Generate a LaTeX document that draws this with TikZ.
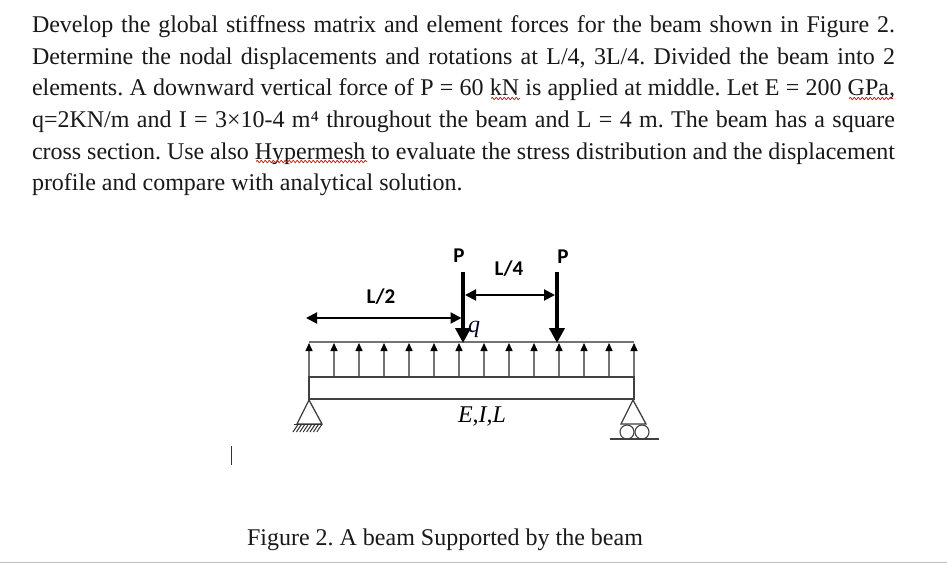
\documentclass[tikz,border=0pt]{standalone}
\usepackage{fontspec}
\setmainfont{Liberation Serif}
\newfontfamily\labelfont{Carlito}
\usetikzlibrary{arrows.meta,decorations.pathmorphing}
\newcommand{\jline}[1]{\makebox[863pt][s]{#1}}
\frenchspacing
\tikzset{
  x=1pt,y=-1pt,
  body/.style={anchor=base west,inner sep=0pt,outer sep=0pt,font=\fontsize{24pt}{32pt}\selectfont,text=black!90},
  tag/.style={inner sep=0pt,font=\labelfont\bfseries\fontsize{21pt}{23pt}\selectfont},
  ital/.style={inner sep=0pt,font=\itshape\fontsize{24pt}{26pt}\selectfont},
  force/.style={line width=4.6pt,-{Triangle[length=15pt,width=15pt]}},
  dim/.style={line width=2pt,{Triangle[length=11pt,width=11pt]}-{Triangle[length=11pt,width=11pt]}},
  load/.style={line width=1.4pt,draw=black!55,-{Triangle[length=8pt,width=7pt,black]}},
  member/.style={line width=1.3pt,draw=black!75},
  squiggle/.style={red!85!black,line width=.7pt,decorate,decoration={snake,amplitude=1.1pt,segment length=4pt}},
}
\begin{document}
\begin{tikzpicture}
\useasboundingbox (0,0) rectangle (947,564);
\fill[white] (0,0) rectangle (947,564);
% problem statement
\node[body] (t1) at (32,32.7) {\jline{Develop the global stiffness matrix and element forces for the beam shown in Figure 2.}};
\node[body] (t2) at (32,64.2) {\jline{Determine the nodal displacements and rotations at L/4, 3L/4. Divided the beam into 2}};
\node[body] (t3) at (32,95.7) {\jline{elements. A downward vertical force of P = 60 kN is applied at middle. Let E = 200 GPa,}};
\node[body] (t4) at (32,127.7) {\jline{q=2KN/m and I = 3×10-4 m⁴ throughout the beam and L = 4 m. The beam has a square}};
\node[body] (t5) at (32,159.2) {\jline{cross section. Use also Hypermesh to evaluate the stress distribution and the displacement}};
\node[body] (t6) at (32,190.7) {profile and compare with analytical solution.};
\draw[squiggle] (491,98.5) -- (520,98.5);
\draw[squiggle] (849,98.5) -- (893,98.5);
\draw[squiggle] (256,161.5) -- (367,161.5);
% beam
\node[member,draw,minimum width=325pt,minimum height=22pt,inner sep=0pt,outer sep=0pt,anchor=north west,line width=1.5pt] (beam) at (309,377) {};
\coordinate (loadL) at (309,342);
\coordinate (loadR) at (634,342);
\draw[line width=1.8pt,draw=black!55] (loadL) -- (loadR);
\foreach \i in {0,...,13}{
  \coordinate (f\i) at ({309+25*\i},376);
  \coordinate (h\i) at ({309+25*\i},343);
  \draw[load] (f\i) -- (h\i);
}
% point forces
\coordinate (p1s) at (463,272);
\coordinate (p1e) at (463,343);
\coordinate (p2s) at (557,272);
\coordinate (p2e) at (557,343);
\draw[force] (p1s) -- (p1e);
\draw[force] (p2s) -- (p2e);
% dimensions
\coordinate (d1a) at (306,318);
\coordinate (d1b) at (461.5,318);
\coordinate (d2a) at (465,295);
\coordinate (d2b) at (555,295);
\draw[dim] (d1a) -- (d1b);
\draw[dim] (d2a) -- (d2b);
% labels
\node[tag] (lp1) at (459,256) {P};
\node[tag] (lp2) at (563,257) {P};
\node[tag] (l4) at (509,269) {L/4};
\node[tag] (l2) at (381,297) {L/2};
\node[ital,text=black!85!blue] (q) at (474,329) {q};
\node[ital] (eil) at (482,416) {E,I,L};
% left support
\coordinate (la) at (309,400);
\coordinate (lb) at (297,424);
\coordinate (lc) at (322,424);
\draw[member] (la) -- (lb) -- (lc) -- cycle;
\foreach \i in {0,...,7}{
  \draw[line width=1pt,black!80] ({298+3.4*\i},424.5) -- ({293+3.4*\i},432);
}
\draw[line width=1pt,black!80] (294,424.5) -- (322,424.5);
% right support
\coordinate (ra) at (633,400);
\coordinate (rb) at (621,424);
\coordinate (rc) at (646,424);
\draw[member] (ra) -- (rb) -- (rc) -- cycle;
\node[member,draw,circle,minimum size=14pt,inner sep=0pt,line width=1.1pt] (r1) at (627,432) {};
\node[member,draw,circle,minimum size=14pt,inner sep=0pt,line width=1.1pt] (r2) at (642,432) {};
\coordinate (ga) at (610,439);
\coordinate (gb) at (659,439);
\draw[line width=1.3pt,black!75] (ga) -- (gb);
% caption
\node[body] (cap) at (247,545.5) {Figure 2. A beam Supported by the beam};
% cursor and page rule
\coordinate (c1) at (231,446);
\coordinate (c2) at (231,465);
\draw[line width=1pt,black!80] (c1) -- (c2);
\coordinate (e1) at (0,562.5);
\coordinate (e2) at (947,562.5);
\draw[line width=1pt,black!25] (e1) -- (e2);
\end{tikzpicture}
\end{document}
